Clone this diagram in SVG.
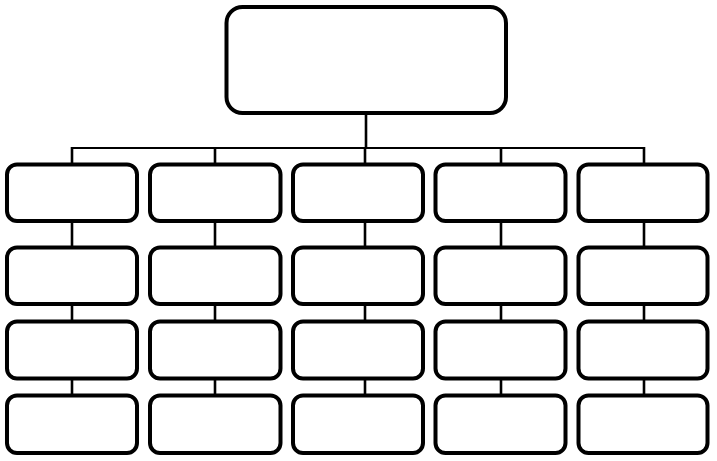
<svg xmlns="http://www.w3.org/2000/svg" width="717" height="461" viewBox="0 0 717 461">
<style>
.box{fill:#fff;stroke:#000;stroke-width:4}
.ln{stroke:#000;stroke-width:2.6;fill:none}
.bar{stroke:#000;stroke-width:2;fill:none}
</style>
<rect width="717" height="461" fill="#fff"/>
<g id="connectors">
<line class="ln" x1="366" y1="113" x2="366" y2="148"/>
<line class="bar" x1="72" y1="148" x2="645" y2="148"/>
<line class="ln" x1="72" y1="147" x2="72" y2="396"/>
<line class="ln" x1="215" y1="147" x2="215" y2="396"/>
<line class="ln" x1="365" y1="147" x2="365" y2="396"/>
<line class="ln" x1="501" y1="147" x2="501" y2="396"/>
<line class="ln" x1="644" y1="147" x2="644" y2="396"/>
</g>
<g id="root"><rect class="box" x="226.5" y="7" width="279.5" height="106" rx="16"/></g>
<g id="c1r1"><rect class="box" x="7" y="164.5" width="130" height="56.5" rx="10"/></g>
<g id="c1r2"><rect class="box" x="7" y="247.5" width="130" height="56.5" rx="10"/></g>
<g id="c1r3"><rect class="box" x="7" y="321.5" width="130" height="57" rx="10"/></g>
<g id="c1r4"><rect class="box" x="7" y="395.5" width="130" height="57.5" rx="10"/></g>
<g id="c2r1"><rect class="box" x="150" y="164.5" width="130.5" height="56.5" rx="10"/></g>
<g id="c2r2"><rect class="box" x="150" y="247.5" width="130.5" height="56.5" rx="10"/></g>
<g id="c2r3"><rect class="box" x="150" y="321.5" width="130.5" height="57" rx="10"/></g>
<g id="c2r4"><rect class="box" x="150" y="395.5" width="130.5" height="57.5" rx="10"/></g>
<g id="c3r1"><rect class="box" x="293" y="164.5" width="130" height="56.5" rx="10"/></g>
<g id="c3r2"><rect class="box" x="293" y="247.5" width="130" height="56.5" rx="10"/></g>
<g id="c3r3"><rect class="box" x="293" y="321.5" width="130" height="57" rx="10"/></g>
<g id="c3r4"><rect class="box" x="293" y="395.5" width="130" height="57.5" rx="10"/></g>
<g id="c4r1"><rect class="box" x="435.5" y="164.5" width="130" height="56.5" rx="10"/></g>
<g id="c4r2"><rect class="box" x="435.5" y="247.5" width="130" height="56.5" rx="10"/></g>
<g id="c4r3"><rect class="box" x="435.5" y="321.5" width="130" height="57" rx="10"/></g>
<g id="c4r4"><rect class="box" x="435.5" y="395.5" width="130" height="57.5" rx="10"/></g>
<g id="c5r1"><rect class="box" x="578.5" y="164.5" width="129" height="56.5" rx="10"/></g>
<g id="c5r2"><rect class="box" x="578.5" y="247.5" width="129" height="56.5" rx="10"/></g>
<g id="c5r3"><rect class="box" x="578.5" y="321.5" width="129" height="57" rx="10"/></g>
<g id="c5r4"><rect class="box" x="578.5" y="395.5" width="129" height="57.5" rx="10"/></g>
</svg>
